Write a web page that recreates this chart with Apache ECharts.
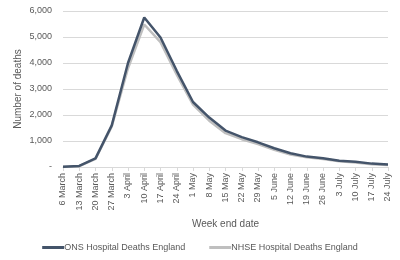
<!DOCTYPE html>
<html>
<head>
<meta charset="utf-8">
<script src="https://cdn.jsdelivr.net/npm/echarts@6/dist/echarts.min.js"></script>
<style>
html, body { margin: 0; padding: 0; background: #fff; }
#chart { width: 400px; height: 260px; }
</style>
</head>
<body>
<div id="chart"></div>
<script>
"use strict"

var weeks = ["6 March", "13 March", "20 March", "27 March", "3 April", "10 April", "17 April", "24 April",
    "1 May", "8 May", "15 May", "22 May", "29 May", "5 June", "12 June", "19 June", "26 June",
    "3 July", "10 July", "17 July", "24 July"];
var onsDeaths = [5, 40, 330, 1600, 4000, 5750, 4980, 3700, 2500, 1900, 1400, 1150, 950, 720, 530, 400, 340, 240, 200, 130, 100];
var nhseDeaths = [3, 30, 310, 1560, 3800, 5480, 4800, 3550, 2400, 1780, 1300, 1070, 880, 660, 480, 370, 310, 220, 170, 110, 80];
var seriesNames = ["ONS Hospital Deaths England", "NHSE Hospital Deaths England"];
var colorList = ["#44546A", "#BFBFBF"];

var chart = echarts.init(document.getElementById("chart"));
var labelFont = { fontFamily: "Liberation Sans", fontSize: 9, color: "#595959" };

var option = {
    animation: false,
    legend: {
        bottom: 3,
        left: "center",
        itemWidth: 22,
        itemHeight: 3,
        itemGap: 24,
        icon: "rect",
        textStyle: { fontFamily: "Liberation Sans", fontSize: 9, color: "#595959", padding: [0, 0, 0, -5] },
        data: [seriesNames[0], seriesNames[1]]
    },
    grid: { left: 63, right: 12, top: 11, bottom: 93 },
    xAxis: {
        type: "category",
        boundaryGap: false,
        data: weeks,
        name: "Week end date",
        nameLocation: "middle",
        nameGap: 52,
        nameTextStyle: { fontFamily: "Liberation Sans", fontSize: 10, color: "#595959" },
        axisLine: { lineStyle: { color: "#D9D9D9" } },
        axisTick: { show: true, alignWithLabel: true, length: 4, lineStyle: { color: "#D9D9D9" } },
        axisLabel: Object.assign({ rotate: 90, interval: 0, margin: 6 }, labelFont)
    },
    yAxis: {
        type: "value",
        min: 0,
        max: 6000,
        interval: 1000,
        name: "Number of deaths",
        nameLocation: "middle",
        nameGap: 40,
        nameMoveOverlap: false,
        nameTextStyle: { fontFamily: "Liberation Sans", fontSize: 10, color: "#595959" },
        axisLine: { show: false },
        axisTick: { show: false },
        splitLine: { lineStyle: { color: "#D9D9D9" } },
        axisLabel: Object.assign({
            margin: 11,
            formatter: function (v) { return v === 0 ? "-" : v.toLocaleString("en-GB"); }
        }, labelFont)
    },
    series: [
        {
            name: seriesNames[1],
            type: "line",
            data: nhseDeaths,
            showSymbol: false,
            z: 2,
            itemStyle: { color: colorList[1] },
            lineStyle: { width: 2.5, color: colorList[1] }
        },
        {
            name: seriesNames[0],
            type: "line",
            data: onsDeaths,
            showSymbol: false,
            z: 3,
            itemStyle: { color: colorList[0] },
            lineStyle: { width: 2.5, color: colorList[0] }
        }
    ]
};

chart.setOption(option);
</script>
</body>
</html>
